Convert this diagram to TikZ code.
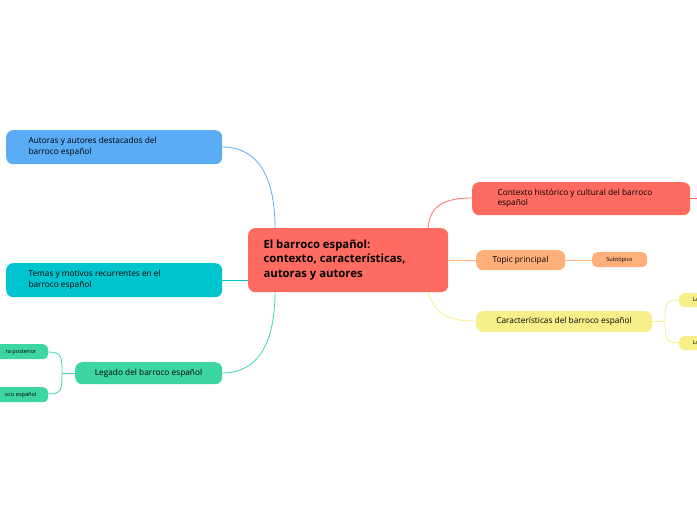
\documentclass[tikz,border=0pt]{standalone}
\usepackage{fontspec}
\setmainfont{Open Sans}
\begin{document}
\begin{tikzpicture}[x=1pt,y=-1pt,
 box/.style={rounded corners=7pt,anchor=north west,inner sep=0pt},
 t/.style={font=\fontsize{8.3}{10.5}\selectfont,align=left},
 s/.style={font=\fontsize{5.6}{6.5}\selectfont}]
\definecolor{cred}{HTML}{FF6B61}\definecolor{cblue}{HTML}{5AACF5}
\definecolor{cteal}{HTML}{00C5CF}\definecolor{cgreen}{HTML}{3DD6A0}
\definecolor{corange}{HTML}{FFB07A}\definecolor{cyellow}{HTML}{F7F08A}
\path[use as bounding box] (0,0) rectangle (697,520);
\begin{scope}
\clip (0,0) rectangle (697,520);
\draw[cblue,thick] (222,147) .. controls (260,147) and (275,180) .. (275,228);
\draw[cteal,thick] (222,280) -- (248,280);
\draw[cgreen,thick] (222,373) .. controls (260,373) and (275,340) .. (275,292);
\draw[cred,thick] (428,228) .. controls (430,205) and (445,198) .. (472,198);
\draw[cred,thick] (690,198) -- (697,198);
\draw[corange,thick] (448,260) -- (476,260);
\draw[corange,thick] (565,260) -- (592,260);
\draw[cyellow,thick] (428,292) .. controls (435,315) and (450,321) .. (476,321);
\draw[cyellow,thick] (652,321) -- (665,321);
\draw[cyellow,thick] (679,300) .. controls (665,300) and (665,305) .. (665,321) .. controls (665,337) and (665,343) .. (679,343);
\draw[cgreen,thick] (75,373) -- (62,373);
\draw[cgreen,thick] (48,352) .. controls (62,352) and (62,357) .. (62,373) .. controls (62,389) and (62,394) .. (48,394);
\node[box,fill=cred,minimum width=200pt,minimum height=64pt] (c) at (248,228) {};
\node[anchor=west,font=\fontsize{11.3}{14.5}\selectfont\bfseries,align=left] at (260,260) {El barroco español:\\contexto, características,\\autoras y autores};
\node[box,fill=cblue,minimum width=216pt,minimum height=34pt] (a) at (6,130) {};
\node[t,anchor=west] at (25,147) {Autoras y autores destacados del\\barroco español};
\node[box,fill=cteal,minimum width=216pt,minimum height=34pt] (b) at (6,263) {};
\node[t,anchor=west] at (25,280) {Temas y motivos recurrentes en el\\barroco español};
\node[box,fill=cgreen,minimum width=147pt,minimum height=22pt] (l) at (75,362) {};
\node[t,anchor=center] at (148.5,373) {Legado del barroco español};
\node[box,fill=cgreen,rounded corners=5pt,minimum width=70pt,minimum height=15pt] (l1) at (-22,344) {};
\node[s,anchor=east] at (40,352) {ra posterior};
\node[box,fill=cgreen,rounded corners=5pt,minimum width=70pt,minimum height=15pt] (l2) at (-22,387) {};
\node[s,anchor=east] at (40,395) {oco español};
\node[box,fill=cred,minimum width=218pt,minimum height=33pt] (r1) at (472,182) {};
\node[t,anchor=west] at (494,198.5) {Contexto histórico y cultural del barroco\\español};
\node[box,fill=corange,minimum width=89pt,minimum height=20pt] (r2) at (476,250) {};
\node[t,anchor=center] at (520.5,260) {Topic principal};
\node[box,fill=corange,rounded corners=5pt,minimum width=55pt,minimum height=15pt] (r3) at (592,252) {};
\node[s,anchor=center] at (619.5,260) {Subtópico};
\node[box,fill=cyellow,minimum width=176pt,minimum height=21pt] (r4) at (476,311) {};
\node[t,anchor=center] at (564,321.5) {Características del barroco español};
\node[box,fill=cyellow,rounded corners=5pt,minimum width=60pt,minimum height=14pt] (y1) at (679,293) {};
\node[s,anchor=west] at (689,300) {La};
\node[box,fill=cyellow,rounded corners=5pt,minimum width=60pt,minimum height=14pt] (y2) at (679,336) {};
\node[s,anchor=west] at (689,343) {La};
\end{scope}
\end{tikzpicture}
\end{document}
